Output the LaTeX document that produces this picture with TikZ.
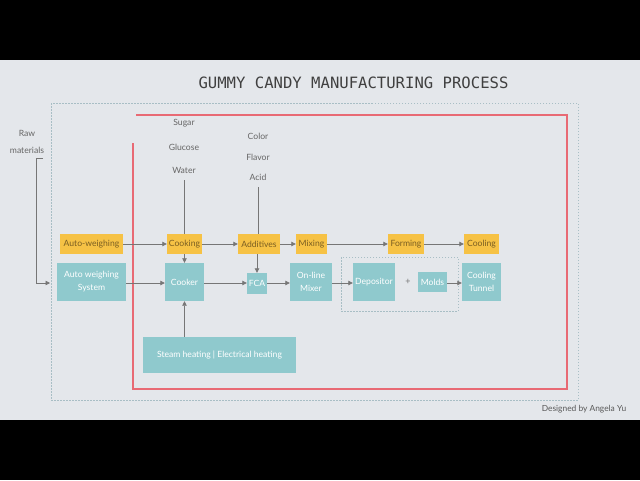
\documentclass[tikz,border=0pt]{standalone}
\usepackage{fontspec}
\setmainfont{Lato}
\newfontfamily\titlefont{DejaVu Sans Mono}
\usetikzlibrary{arrows.meta}
\definecolor{bgc}{HTML}{E4E7EB}
\definecolor{yel}{HTML}{F6C245}
\definecolor{teal2}{HTML}{8FC9CD}
\definecolor{ytext}{HTML}{7A5E22}
\definecolor{arr}{HTML}{767676}
\definecolor{framered}{RGB}{232,106,116}
\definecolor{dotc}{HTML}{A8BEC5}
\definecolor{lbl}{HTML}{666666}
\tikzset{
  ybox/.style={fill=yel, text=ytext, inner sep=0pt, font=\fontsize{8.6}{10}\selectfont, align=center},
  tbox/.style={fill=teal2, text=white, inner sep=0pt, font=\fontsize{8.6}{13}\selectfont, align=center},
  lab/.style={text=lbl, inner sep=0pt, font=\fontsize{8.6}{10}\selectfont, align=center},
  flow/.style={draw=arr, line width=0.8pt, -{Triangle[length=4.5pt,width=4.5pt]}},
  plain/.style={draw=arr, line width=0.8pt},
  dotbox/.style={draw=dotc, line width=0.5pt, dash pattern=on 1.5pt off 1.5pt},
  redframe/.style={draw=framered, line width=1.1pt}
}
\begin{document}
\begin{tikzpicture}[x=1pt,y=-1pt]
\useasboundingbox (0,0) rectangle (640,480);
\fill[black] (0,0) rectangle (640,480);
\fill[bgc] (0,60) rectangle (640,420);
% title
\node[text=black!75, inner sep=0pt, font=\titlefont\fontsize{15.6}{16}\selectfont] (title) at (353.5,83) {GUMMY CANDY MANUFACTURING PROCESS};
% outer dotted box
\draw[dotbox] (51,103) rectangle (578,400);
% red frame
\draw[redframe] (133,143) -- (133,389) -- (567,389) -- (567,115) -- (136,115);
% depositor group dotted box
\draw[dotbox] (341,257) rectangle (458,311);
% yellow row
\node[ybox, minimum width=63pt, minimum height=20pt] (autoY) at (91.5,244) {Auto-weighing};
\node[ybox, minimum width=35pt, minimum height=20pt] (cookY) at (184.5,244) {Cooking};
\node[ybox, minimum width=42pt, minimum height=20pt] (addY) at (259,244) {Additives};
\node[ybox, minimum width=31pt, minimum height=20pt] (mixY) at (311.5,244) {Mixing};
\node[ybox, minimum width=36pt, minimum height=20pt] (formY) at (406,244) {Forming};
\node[ybox, minimum width=35pt, minimum height=20pt] (coolY) at (481.5,244) {Cooling};
% teal row
\node[tbox, minimum width=69pt, minimum height=38pt] (awSys) at (91.5,282) {Auto weighing\\System};
\node[tbox, minimum width=39pt, minimum height=38pt] (cooker) at (184.5,282) {Cooker};
\node[tbox, minimum width=20pt, minimum height=21pt] (fca) at (257,283.5) {FCA};
\node[tbox, minimum width=42pt, minimum height=38pt] (mixer) at (311,282) {On-line\\Mixer};
\node[tbox, minimum width=42pt, minimum height=38pt] (depo) at (374,282) {Depositor};
\node[text=arr, inner sep=0pt, font=\fontsize{9}{10}\selectfont] (plus) at (408,282) {+};
\node[tbox, minimum width=29pt, minimum height=20pt] (molds) at (432.5,282) {Molds};
\node[tbox, minimum width=39pt, minimum height=38pt] (tunnel) at (481.5,282) {Cooling\\Tunnel};
\node[tbox, minimum width=153pt, minimum height=36pt] (heat) at (219.5,355) {Steam heating | Electrical heating};
% labels
\node[lab] (raw) at (27,133) {Raw};
\node[lab] (mat) at (27,150) {materials};
\node[lab] (sugar) at (184,123) {Sugar};
\node[lab] (glucose) at (184,147) {Glucose};
\node[lab] (water) at (184,170) {Water};
\node[lab] (color) at (258,136) {Color};
\node[lab] (flavor) at (258,157) {Flavor};
\node[lab] (acid) at (258,177) {Acid};
\node[text=black!65, inner sep=0pt, font=\fontsize{8.4}{10}\selectfont] (credit) at (584,409) {Designed by Angela Yu};
% connectors
\coordinate (rawA) at (43,158);
\coordinate (rawB) at (36,158);
\coordinate (rawC) at (36,283);
\coordinate (rawD) at (50,283);
\draw[flow] (rawA) -- (rawB) -- (rawC) -- (rawD);
\coordinate (waterEnd) at (184.5,180);
\coordinate (acidEnd) at (258,187);
\draw[plain] (waterEnd) -- (cookY.north);
\draw[plain] (acidEnd) -- (acid.south |- addY.north);
\draw[flow] (autoY) -- (cookY);
\draw[flow] (cookY) -- (addY);
\draw[flow] (addY) -- (mixY);
\draw[flow] (mixY) -- (formY);
\draw[flow] (formY) -- (coolY);
\draw[flow] (cookY) -- (cooker);
\draw[flow] (addY.south -| fca.north) -- (fca.north);
\draw[flow] (awSys.east |- 0,283) -- (cooker.west |- 0,283);
\draw[flow] (cooker.east |- 0,283) -- (fca.west |- 0,283);
\draw[flow] (fca.east |- 0,283) -- (mixer.west |- 0,283);
\draw[flow] (mixer.east |- 0,283) -- (depo.west |- 0,283);
\draw[flow] (molds.east |- 0,283) -- (tunnel.west |- 0,283);
\draw[flow] (heat.north -| cooker.south) -- (cooker.south);
\end{tikzpicture}
\end{document}
